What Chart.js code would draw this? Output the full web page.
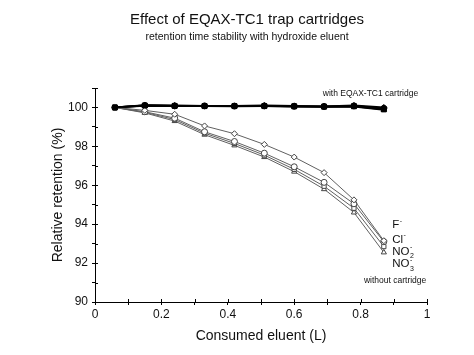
<!DOCTYPE html>
<html><head><meta charset="utf-8">
<script src="https://cdn.jsdelivr.net/npm/chart.js@4.4.1/dist/chart.umd.min.js"></script>
<style>html,body{margin:0;padding:0;background:#fff}#wrap{width:474px;height:355px}</style>
</head><body><div id="wrap"><canvas id="c" width="474" height="355"></canvas></div>
<script>
const eluent = [0.06,0.15,0.24,0.33,0.42,0.51,0.60,0.69,0.78,0.87];
const ions = ['F','Cl','NO2','NO3'];
const withoutF   = [100, 99.85, 99.65, 99.05, 98.65, 98.10, 97.45, 96.65, 95.25, 93.15];
const withoutCl  = [100, 99.78, 99.45, 98.75, 98.25, 97.65, 96.95, 96.15, 95.05, 93.10];
const withoutNO2 = [100, 99.75, 99.38, 98.68, 98.15, 97.55, 96.82, 95.95, 94.82, 92.85];
const withoutNO3 = [100, 99.72, 99.30, 98.60, 98.05, 97.45, 96.70, 95.80, 94.60, 92.55];
const withF   = [100, 100.12, 100.10, 100.08, 100.08, 100.10, 100.08, 100.06, 100.10, 100.00];
const withCl  = [100, 100.10, 100.08, 100.08, 100.07, 100.08, 100.06, 100.05, 100.08, 99.95];
const withNO2 = [100, 100.10, 100.08, 100.07, 100.07, 100.07, 100.06, 100.04, 100.06, 99.90];
const withNO3 = [100, 100.08, 100.07, 100.07, 100.06, 100.07, 100.05, 100.03, 100.05, 99.88];
const xTickLabels = ['0','0.2','0.4','0.6','0.8','1'];
const yTickLabels = ['90','92','94','96','98','100'];

const FONT = 'Arial, "Liberation Sans", sans-serif';
const toPts = arr => arr.map((v,i)=>({x:eluent[i], y:v}));
const styles = ['rectRot','circle','rect','triangle'];
const withoutSets = [withoutF, withoutCl, withoutNO2, withoutNO3];
const withSets = [withF, withCl, withNO2, withNO3];

const datasets = [];
withoutSets.forEach((arr,i)=>datasets.push({
  label: ions[i]+' without', data: toPts(arr), borderColor:'#606060', borderWidth:1,
  pointStyle: styles[i], pointRadius: 3, pointBackgroundColor:'#fff', pointBorderColor:'#444', pointBorderWidth:1
}));
withSets.forEach((arr,i)=>datasets.push({
  label: ions[i]+' with', data: toPts(arr), borderColor:'#000', borderWidth:1.8,
  pointStyle: styles[i], pointRadius: styles[i]==='rect' ? 3.5 : 3, pointBackgroundColor:'#000', pointBorderColor:'#000', pointBorderWidth:1,
  order: styles[i]==='rect' ? -1 : 0
}));

const innerTicks = {
  id:'innerTicks',
  afterDraw(chart){
    const ctx = chart.ctx, xs = chart.scales.x, ys = chart.scales.y, a = chart.chartArea;
    ctx.save();
    ctx.strokeStyle = '#000'; ctx.lineWidth = 1;
    for (let v = 90; v <= 101; v++){
      const p = Math.round(ys.getPixelForValue(v))+0.5;
      ctx.beginPath(); ctx.moveTo(a.left, p); ctx.lineTo(a.left+3, p); ctx.stroke();
    }
    for (let k = 0; k <= 10; k++){
      const p = Math.round(xs.getPixelForValue(k/10))+0.5;
      ctx.beginPath(); ctx.moveTo(p, a.bottom); ctx.lineTo(p, a.bottom-3); ctx.stroke();
    }
    // titles
    ctx.fillStyle = '#111'; ctx.textAlign = 'center'; ctx.textBaseline = 'middle';
    ctx.font = '15px ' + FONT;
    ctx.fillText('Effect of EQAX-TC1 trap cartridges', 247, 20);
    ctx.font = '10.5px ' + FONT;
    ctx.fillText('retention time stability with hydroxide eluent', 247, 37);
    // annotations
    ctx.font = '8.5px ' + FONT;
    ctx.textAlign = 'left';
    ctx.fillText('with EQAX-TC1 cartridge', xs.getPixelForValue(0.686), ys.getPixelForValue(100.7));
    ctx.fillText('without cartridge', xs.getPixelForValue(0.81), ys.getPixelForValue(91.1));
    const ionLab = [['F','-',''],['Cl','-',''],['NO','-','2'],['NO','-','3']];
    const ionY = [93.95, 93.22, 92.6, 91.95];
    ionLab.forEach((l,i)=>{
      const x0 = xs.getPixelForValue(0.895), y0 = ys.getPixelForValue(ionY[i]);
      ctx.font = '11.5px ' + FONT; ctx.textBaseline='middle';
      ctx.fillText(l[0], x0, y0);
      const w = ctx.measureText(l[0]).width;
      ctx.font = '7px ' + FONT;
      ctx.fillText(l[1], x0+w+0.5, y0-4);
      if (l[2]) ctx.fillText(l[2], x0+w+0.5, y0+5);
    });
    ctx.restore();
  }
};

new Chart(document.getElementById('c'), {
  type:'line',
  data:{datasets},
  options:{
    responsive:false, animation:false, devicePixelRatio:1,
    layout:{padding:{top:88, right:47, left:46, bottom:10}},
    plugins:{legend:{display:false}, tooltip:{enabled:false}, title:{display:false}},
    scales:{
      x:{type:'linear', min:0, max:1,
        afterFit(s){ s.height = 43; },
        border:{display:true, color:'#000', width:1},
        grid:{drawOnChartArea:false, tickLength:3, color:'#000'},
        ticks:{stepSize:0.1, autoSkip:false, maxRotation:0, color:'#111', font:{size:12, family:FONT}, padding:2,
          callback:(v)=>{ const k = Math.round(v*10); return k%2===0 ? xTickLabels[k/2] : ''; }},
        title:{display:true, text:'Consumed eluent (L)', color:'#111', font:{size:14, family:FONT}, padding:{top:2, bottom:0}}
      },
      y:{type:'linear', min:90, max:101,
        afterFit(s){ s.width = 49; },
        border:{display:true, color:'#000', width:1},
        grid:{drawOnChartArea:false, tickLength:3, color:'#000'},
        ticks:{stepSize:1, autoSkip:false, color:'#111', font:{size:12, family:FONT}, padding:4,
          callback:(v)=>{ const k = Math.round(v)-90; return (k%2===0 && k<=10) ? yTickLabels[k/2] : ''; }},
        title:{display:true, text:'Relative retention (%)', color:'#111', font:{size:14, family:FONT}, padding:{top:4, bottom:0}}
      }
    }
  },
  plugins:[innerTicks]
});
</script></body></html>
